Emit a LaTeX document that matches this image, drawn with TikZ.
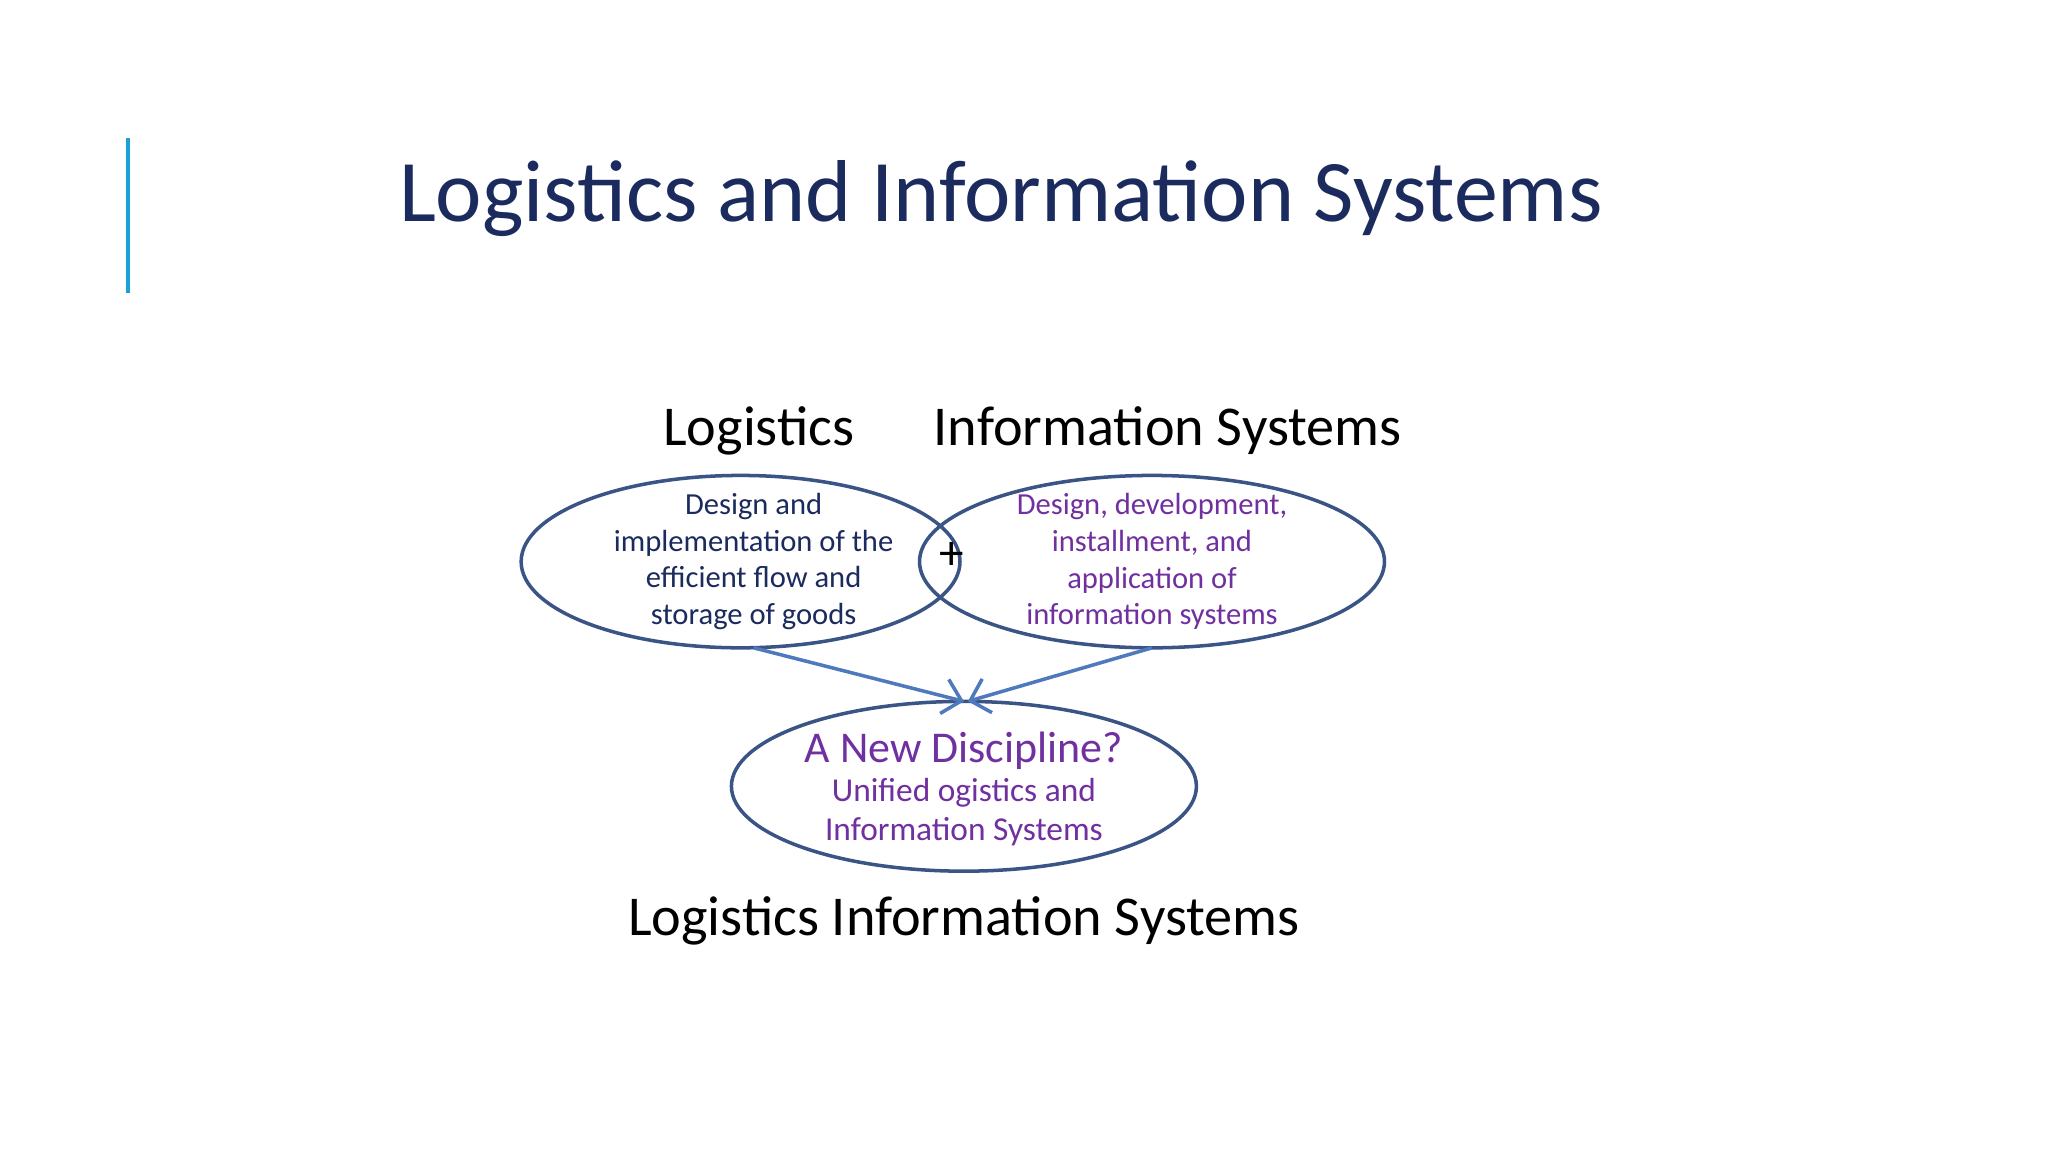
\documentclass[tikz,border=0pt]{standalone}
\usepackage{fontspec}
\setmainfont{Carlito}
\definecolor{navy}{HTML}{1B2B5E}
\definecolor{ring}{HTML}{3A5585}
\definecolor{arr}{HTML}{4E79BC}
\definecolor{purp}{HTML}{7030A0}
\definecolor{bar}{HTML}{1E9FD6}
\tikzset{ell/.style={draw=ring,line width=1pt},
 etext/.style={align=center,font=\fontsize{8.7}{10.4}\selectfont},
 lab/.style={font=\fontsize{16}{19}\selectfont,text=black},
 con/.style={draw=arr,line width=1pt,-{Straight Barb[length=5pt]}}}
\usetikzlibrary{arrows.meta}
\begin{document}
\begin{tikzpicture}[x=0.013061cm,y=-0.013061cm]
\useasboundingbox[fill=white] (0,0) rectangle (1568,882);
\draw[bar,line width=1.2pt] (98,106) -- (98,224);
\node[anchor=west,text=navy,font=\fontsize{25}{30}\selectfont] (title) at (296,152) {Logistics and Information Systems};
\draw[ell] (567,430) ellipse [x radius=168,y radius=66];
\draw[ell] (882,430) ellipse [x radius=178,y radius=66];
\draw[ell] (738,602) ellipse [x radius=178,y radius=65];
\node[etext,text=navy] (lt) at (577,430) {Design and\\implementation of the\\efficient flow and\\storage of goods};
\node[etext,text=purp] (rt) at (882,430) {Design, development,\\installment, and\\application of\\information systems};
\node[font=\fontsize{14}{16}\selectfont] (plus) at (729,426) {+};
\node[lab] (l1) at (581,330) {Logistics};
\node[lab] (l2) at (894,330) {Information Systems};
\node[lab] (l3) at (738,705) {Logistics Information Systems};
\node[align=center,text=purp] (bt) at (738,604) {{\fontsize{12.5}{15}\selectfont A New Discipline?}\\[-1pt]{\fontsize{9.5}{14}\selectfont Unified ogistics and}\\[-1pt]{\fontsize{9.5}{12}\selectfont Information Systems}};
\coordinate (a1) at (577,496); \coordinate (a2) at (882,496);
\coordinate (t1) at (738,537); \coordinate (t2) at (741,537);
\draw[con] (a1) -- (t1);
\draw[con] (a2) -- (t2);
\end{tikzpicture}
\end{document}
